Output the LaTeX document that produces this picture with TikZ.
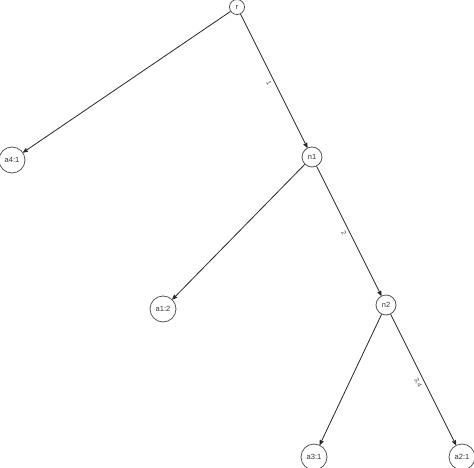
\documentclass[tikz,border=0pt]{standalone}
\usepackage{fontspec}
\setmainfont{Liberation Sans}
\usetikzlibrary{arrows,positioning}
\definecolor{nodegray}{HTML}{555555}
\tikzset{
  vertex/.style={circle,draw=nodegray,line width=0.8pt,text=black!80,font=\fontsize{7.5}{8}\selectfont,inner sep=0pt},
  root/.style={vertex,minimum size=15pt},
  inner/.style={vertex,minimum size=20pt},
  leaf/.style={vertex,minimum size=26pt},
  branches/.style={
    every edge/.style={draw=black!85,line width=0.8pt,->,>=stealth'},
    every node/.style={font=\fontsize{6.5}{7}\selectfont,text=black!70,sloped,swap,inner sep=3pt}
  }
}
\begin{document}
\begin{tikzpicture}[x=1pt,y=1pt,auto]
      \useasboundingbox (0,0) rectangle (474,-468);

      \node (r) [root] at (237,-7) {r};
      \node (a4) [leaf] at (12,-160) {a4:1};
      \node (n1) [inner] at (312,-157) {n1};
      \node (a1) [leaf] at (163,-309) {a1:2};
      \node (n2) [inner] at (386,-305) {n2};
      \node (a3) [leaf] at (314,-457) {a3:1};
      \node (a2) [leaf] at (462,-457) {a2:1};

      \path[branches]
      (r) edge (a4)
      (r) edge node {1} (n1)
      (n1) edge (a1)
      (n1) edge node {2} (n2)
      (n2) edge (a3)
      (n2) edge node {3,4} (a2)
      ;
    \end{tikzpicture}
\end{document}
